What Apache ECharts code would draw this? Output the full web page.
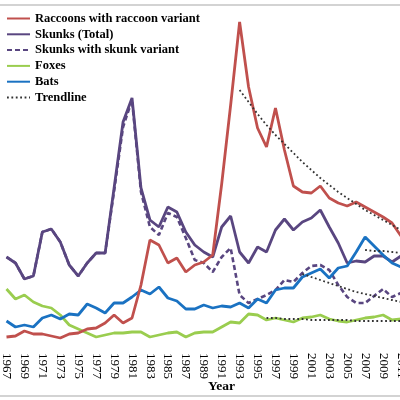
<!DOCTYPE html>
<html>
<head>
<meta charset="utf-8">
<script src="https://cdn.jsdelivr.net/npm/echarts@6/dist/echarts.min.js"></script>
<style>
html,body{margin:0;padding:0;width:400px;height:400px;overflow:hidden;background:#fff;}
#chart{width:420px;height:400px;}
</style>
</head>
<body>
<div id="chart"></div>
<script>
const years = [];
for (let y = 1967; y <= 2011; y++) years.push(String(y));

const raccoons = [8,9,14,11,11,9,7,11,12,16,17,22,30,22,27,60,105,100,82,87,73,80,83,90,161,240,323,258,217,198,237,195,159,153,152,159,147,142,139,143,138,133,128,122,109];
const skunksTotal = [88,82,66,69,113,116,103,80,69,82,92,92,157,223,247,157,125,118,138,133,113,100,93,88,118,129,93,82,98,93,115,126,115,123,127,135,118,102,82,84,83,89,89,83,89];
const skunksVariant = [88,82,66,69,113,116,103,80,69,82,92,92,154,218,245,153,118,110,132,128,107,85,82,73,88,97,50,42,46,50,55,65,63,72,79,80,75,60,48,42,42,49,56,48,52];
const foxes = [56,46,50,43,39,37,30,20,16,12,8,10,12,12,13,13,8,10,12,13,8,12,13,13,18,23,22,31,30,25,27,25,23,27,28,30,26,24,23,25,27,28,30,25,26];
const bats = [24,18,20,18,27,30,26,31,30,41,37,32,42,42,48,55,51,58,47,44,36,36,40,37,39,38,42,37,46,42,55,57,57,68,72,76,67,77,79,93,108,99,90,82,78];

// trendlines (start year + values)
const trendRaccoonStart = 1993;
const trendRaccoon = [255,243,231,220,210,201,192,183,175,167,160,153,147,141,135,130,125,120,115];
const trendSkunkStart = 2000;
const trendSkunk = [71,68,65,62,59,56,53,51,49,47,45,43];
const trendBatsStart = 2007;
const trendBats = [95,94,94,93,92];
const trendFoxStart = 1996;
const trendFox = [27,27,26,26,26,25,25,25,25,25,24,24,24,24,24,24];

function pad(start, vals) {
  const out = years.map(() => null);
  const i0 = years.indexOf(String(start));
  vals.forEach((v, i) => { out[i0 + i] = v; });
  return out;
}

const FONT = 'Liberation Serif, Times New Roman, serif';
const C_RED = '#c0504d', C_PURPLE = '#594680', C_GREEN = '#9acd4f', C_BLUE = '#1a72c2', C_TREND = '#333333';

function lineSeries(name, data, color, type, width, z) {
  return {
    name: name, type: 'line', data: data, symbol: 'none', z: z,
    lineStyle: { color: color, width: width, type: type },
    itemStyle: { color: color },
    emphasis: { disabled: true }
  };
}

const chart = echarts.init(document.getElementById('chart'), null, { renderer: 'canvas' });
chart.setOption({
  animation: false,
  backgroundColor: '#fff',
  grid: { left: 3, right: 19, top: 5, bottom: 55, containLabel: false },
  legend: {
    orient: 'vertical', left: 6, top: 12, padding: 0,
    itemWidth: 23, itemHeight: 14, itemGap: 2.8,
    itemStyle: { opacity: 0 },
    data: ['Raccoons with raccoon variant', 'Skunks (Total)', 'Skunks with skunk variant', 'Foxes', 'Bats', 'Trendline'],
    textStyle: { fontFamily: FONT, fontWeight: 'bold', fontSize: 12.5, color: '#000' }
  },
  xAxis: {
    type: 'category', data: years, boundaryGap: false,
    axisLine: { show: false }, axisTick: { show: false }, splitLine: { show: false },
    axisLabel: { interval: 1, rotate: -90, margin: 8, fontFamily: FONT, fontSize: 13, color: '#000' }
  },
  yAxis: { type: 'value', min: 0, max: 340, show: false, splitLine: { show: false } },
  graphic: [
    { type: 'line', shape: { x1: 0, y1: 5, x2: 420, y2: 5 }, style: { stroke: '#c4c4c4', lineWidth: 1.5 } },
    { type: 'line', shape: { x1: 0, y1: 396, x2: 420, y2: 396 }, style: { stroke: '#c4c4c4', lineWidth: 1.5 } },
    { type: 'text', left: 208, top: 380, style: { text: 'Year', fontFamily: FONT, fontWeight: 'bold', fontSize: 13.5, fill: '#000' } }
  ],
  series: [
    lineSeries('Skunks with skunk variant', skunksVariant, C_PURPLE, [5, 3], 2.6, 2),
    lineSeries('Skunks (Total)', skunksTotal, C_PURPLE, 'solid', 2.8, 3),
    lineSeries('Foxes', foxes, C_GREEN, 'solid', 2.8, 2),
    lineSeries('Bats', bats, C_BLUE, 'solid', 2.8, 3),
    lineSeries('Raccoons with raccoon variant', raccoons, C_RED, 'solid', 2.8, 4),
    lineSeries('Trendline', pad(trendRaccoonStart, trendRaccoon), C_TREND, [1.8, 2.6], 1.8, 5),
    lineSeries('Trendline', pad(trendSkunkStart, trendSkunk), C_TREND, [1.8, 2.6], 1.8, 5),
    lineSeries('Trendline', pad(trendBatsStart, trendBats), C_TREND, [1.8, 2.6], 1.8, 5),
    lineSeries('Trendline', pad(trendFoxStart, trendFox), C_TREND, [1.8, 2.6], 1.8, 5)
  ]
});
</script>
</body>
</html>
